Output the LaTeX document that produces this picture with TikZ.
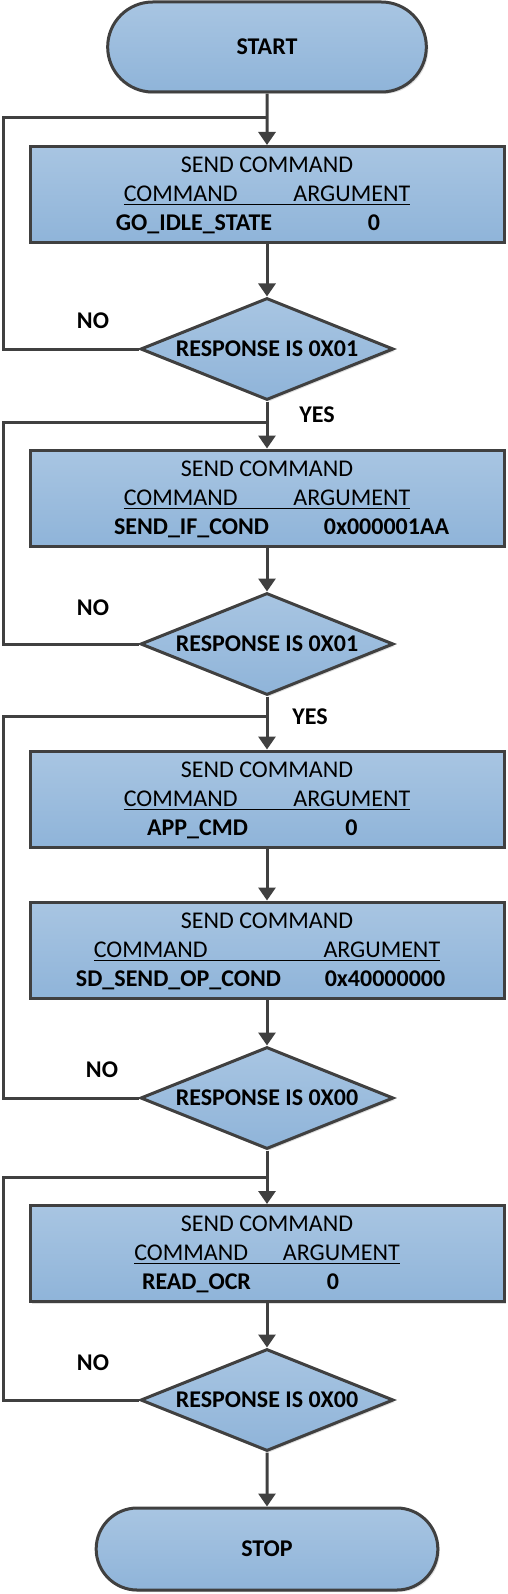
\documentclass[tikz,border=0pt]{standalone}
\usepackage{fontspec}
\setmainfont{Carlito}
\usetikzlibrary{shapes.geometric,shapes.misc,arrows.meta,shadows}
\definecolor{boxtop}{HTML}{A8C5E2}
\definecolor{boxbot}{HTML}{8FB4D9}
\definecolor{edge}{HTML}{404040}
\newcommand\figfont{\fontsize{12}{14}\selectfont}
\tikzset{
	fillbox/.style={draw=edge,line width=1.5pt,top color=boxtop,bottom color=boxbot,
		drop shadow={shadow xshift=1pt,shadow yshift=-1pt,opacity=.25}},
	term/.style={fillbox,rounded rectangle,font=\figfont\bfseries},
	cmdbox/.style={fillbox,rectangle,minimum width=237pt,minimum height=48pt},
	test/.style={fillbox,diamond,aspect=2.5,inner sep=0pt,
		minimum width=126.5pt,minimum height=51pt,font=\figfont\bfseries},
	flow/.style={draw=edge,line width=1.5pt},
	arr/.style={flow,-{Triangle[width=8.5pt,length=6.5pt]}},
	lbl/.style={font=\figfont\bfseries}
}
\begin{document}
\begin{tikzpicture}[x=0.5pt,y=-0.5pt,font=\figfont]
	\useasboundingbox (0,0) rectangle (508,1594);
	\path (267,47) node[term,minimum width=166pt,minimum height=45pt](start){START};
	\path (267,1549) node[term,minimum width=177.5pt,minimum height=41pt](stop){STOP};
	% command boxes
	\foreach \n/\y/\gap/\cmd/\cx/\arg/\ax in
	{1/194.5/28/GO\_IDLE\_STATE/194/0/374,
	2/498/28/SEND\_IF\_COND/191.5/0x000001AA/386.5,
	3/799/28/APP\_CMD/197.5/0/351.5,
	4/950/58/SD\_SEND\_OP\_COND/178.5/0x40000000/385,
	5/1253.5/17.5/READ\_OCR/196.5/0/333}
	{
	\path (267,\y) node[cmdbox](b\n){};
	\path (267,\y-22) node[anchor=base](b\n t){SEND COMMAND};
	\path (267,\y+7) node[anchor=base](b\n h){\underline{COMMAND\hspace{\gap pt}ARGUMENT}};
	\path (\cx,\y+36) node[anchor=base,lbl](b\n c){\cmd};
	\path (\ax,\y+36) node[anchor=base,lbl](b\n a){\arg};
	}
	% decisions
	\foreach \n/\y/\texn in {1/349/0X01,2/644/0X01,3/1098/0X00,4/1400/0X00}
	\path (267,\y) node[test](d\n){RESPONSE IS \texn};
	\foreach \x/\y/\texn/\nm in {93/321/NO/no1,93/608/NO/no2,102/1070/NO/no3,93/1363/NO/no4,
	317/414.5/YES/yes1,310/716.5/YES/yes2}
	\path (\x,\y) node[lbl](\nm){\texn};
	\coordinate (rail) at (3,0);
	\coordinate (j1) at (267,118);
	\coordinate (j2) at (267,422);
	\coordinate (j3) at (267,716);
	\coordinate (j4) at (267,1177);
	\draw[arr] (start)--(b1);
	\draw[arr] (b1)--(d1);
	\draw[arr] (d1)--(b2);
	\draw[arr] (b2)--(d2);
	\draw[arr] (d2)--(b3);
	\draw[arr] (b3)--(b4);
	\draw[arr] (b4)--(d3);
	\draw[arr] (d3)--(b5);
	\draw[arr] (b5)--(d4);
	\draw[arr] (d4)--(stop);
	% NO loops
	\draw[flow] (d1.west)--(d1.west-|rail)|-(j1);
	\draw[flow] (d2.west)--(d2.west-|rail)|-(j2);
	\draw[flow] (d3.west)--(d3.west-|rail)|-(j3);
	\draw[flow] (d4.west)--(d4.west-|rail)|-(j4);
\end{tikzpicture}
\end{document}
